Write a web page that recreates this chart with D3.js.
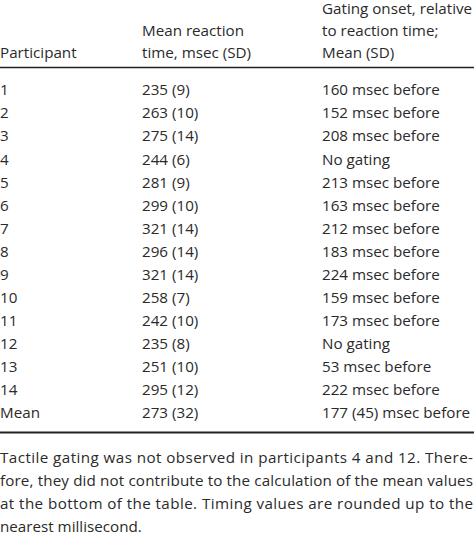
<!DOCTYPE html>
<html lang="en">
<head>
  <meta charset="UTF-8">
  <script src="https://cdn.jsdelivr.net/npm/d3@7"></script>
  <style>
    body { margin: 0; background: #fff; }
    text { font-family: "Open Sans", sans-serif; font-size: 15.2px; fill: #2a2a2a; }
  </style>
</head>
<body>
  <svg width="474" height="536"></svg>
  <script>
    var participants = ["1", "2", "3", "4", "5", "6", "7", "8", "9", "10", "11", "12", "13", "14", "Mean"]
    var reaction = ["235 (9)", "263 (10)", "275 (14)", "244 (6)", "281 (9)", "299 (10)", "321 (14)",
      "296 (14)", "321 (14)", "258 (7)", "242 (10)", "235 (8)", "251 (10)", "295 (12)", "273 (32)"]
    var gating = ["160 msec before", "152 msec before", "208 msec before", "No gating", "213 msec before",
      "163 msec before", "212 msec before", "183 msec before", "224 msec before", "159 msec before",
      "173 msec before", "No gating", "53 msec before", "222 msec before", "177 (45) msec before"]
    var headers = [
      ["", "", "Gating onset, relative"],
      ["", "Mean reaction", "to reaction time;"],
      ["Participant", "time, msec (SD)", "Mean (SD)"]
    ]
    var footnote = [
      "Tactile gating was not observed in participants 4 and 12. There-",
      "fore, they did not contribute to the calculation of the mean values",
      "at the bottom of the table. Timing values are rounded up to the",
      "nearest millisecond."
    ]

    var svg = d3.select("svg")
    var colX = [0, 142, 322]

    // header
    var hy = d3.scaleLinear().domain([0, 2]).range([9, 53])
    headers.forEach(function (row, i) {
      row.forEach(function (t, j) {
        svg.append("text").attr("x", colX[j]).attr("y", hy(i)).attr("dy", "0.35em").text(t)
      })
    })
    svg.append("line").attr("x1", 0).attr("x2", 474).attr("y1", 67.5).attr("y2", 67.5)
      .attr("stroke", "#222").attr("stroke-width", 1.6)

    // body rows
    var y = d3.scaleLinear().domain([0, participants.length - 1]).range([90, 413])
    var rows = svg.selectAll(".row").data(participants).enter().append("g")
      .attr("transform", (d, i) => "translate(0," + y(i) + ")")
    rows.append("text").attr("x", colX[0]).attr("dy", "0.35em").text(d => d)
    rows.append("text").attr("x", colX[1]).attr("dy", "0.35em").text((d, i) => reaction[i])
    rows.append("text").attr("x", colX[2]).attr("dy", "0.35em").text((d, i) => gating[i])

    svg.append("line").attr("x1", 0).attr("x2", 474).attr("y1", 432.5).attr("y2", 432.5)
      .attr("stroke", "#222").attr("stroke-width", 2.2)

    // footnote, justified like the source
    var fy = d3.scaleLinear().domain([0, 3]).range([458, 527])
    footnote.forEach(function (t, i) {
      var tx = svg.append("text").attr("x", 0).attr("y", fy(i)).attr("dy", "0.35em").text(t)
      if (i < footnote.length - 1) tx.attr("textLength", 473).attr("lengthAdjust", "spacing")
    })
  </script>
</body>
</html>
